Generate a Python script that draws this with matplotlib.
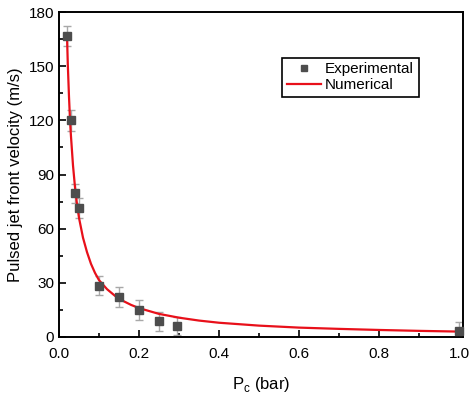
import numpy as np
import matplotlib.pyplot as plt
from matplotlib.ticker import MultipleLocator

plt.rcParams['font.family'] = ['Liberation Sans', 'DejaVu Sans']

# experimental points (P_c in bar, velocity in m/s)
p_exp = [0.021, 0.03, 0.04, 0.05, 0.10, 0.15, 0.20, 0.25, 0.295, 1.0]
v_exp = [166.5, 120.0, 79.5, 71.5, 28.5, 22.0, 15.0, 8.7, 6.3, 3.3]
v_err = [5.5, 6.0, 5.5, 5.5, 5.3, 5.6, 5.7, 5.4, 5.0, 5.0]

# numerical curve
p_num = [0.02, 0.022, 0.025, 0.028, 0.03, 0.035, 0.04, 0.045, 0.05, 0.06,
         0.07, 0.08, 0.09, 0.10, 0.12, 0.14, 0.16, 0.18, 0.20, 0.25,
         0.30, 0.35, 0.40, 0.50, 0.60, 0.70, 0.80, 0.90, 1.0]
v_num = [167, 151, 133, 118, 111, 95, 83, 73.5, 66, 55,
         47, 40.5, 35.5, 31.5, 26.5, 22.8, 20.0, 17.8, 16.0, 12.8,
         10.7, 9.1, 7.9, 6.3, 5.2, 4.5, 3.9, 3.4, 3.0]

fig = plt.figure(figsize=(4.74, 3.94), dpi=100)
ax = fig.add_axes([59 / 474, 1 - 337 / 394, 404 / 474, 325 / 394])

ax.errorbar(p_exp, v_exp, yerr=v_err, fmt='none', ecolor='#a8a8a8',
            elinewidth=1, capsize=3, capthick=1, zorder=2)
ax.plot(p_num, v_num, color='#e8101a', lw=1.6, label='Numerical', zorder=3)
ax.plot(p_exp, v_exp, 's', color='#4d4d4d', ms=6, label='Experimental',
        zorder=4, clip_on=False)

ax.set_xlim(0, 1.01)
ax.set_ylim(0, 180)
ax.xaxis.set_major_locator(MultipleLocator(0.2))
ax.xaxis.set_minor_locator(MultipleLocator(0.1))
ax.yaxis.set_major_locator(MultipleLocator(30))
ax.yaxis.set_minor_locator(MultipleLocator(15))
ax.tick_params(which='both', direction='in', labelsize=11, width=1.2)
ax.tick_params(which='major', length=5)
ax.tick_params(which='minor', length=3)
ax.tick_params(axis='x', pad=7)
for s in ax.spines.values():
    s.set_linewidth(1.4)

ax.set_xlabel('P$_\\mathregular{c}$ (bar)', fontsize=12, labelpad=10)
ax.set_ylabel('Pulsed jet front velocity (m/s)', fontsize=12, labelpad=4)

handles, labels = ax.get_legend_handles_labels()
leg = ax.legend(handles[::-1], labels[::-1], loc='upper right',
                bbox_to_anchor=(0.89, 0.86), fontsize=11, fancybox=False,
                framealpha=1, edgecolor='black', borderpad=0.3,
                handlelength=2.2, handletextpad=0.3, labelspacing=0.15,
                borderaxespad=0, markerscale=0.8)
leg.get_frame().set_linewidth(1.2)

fig.savefig('out.png', dpi=100)
